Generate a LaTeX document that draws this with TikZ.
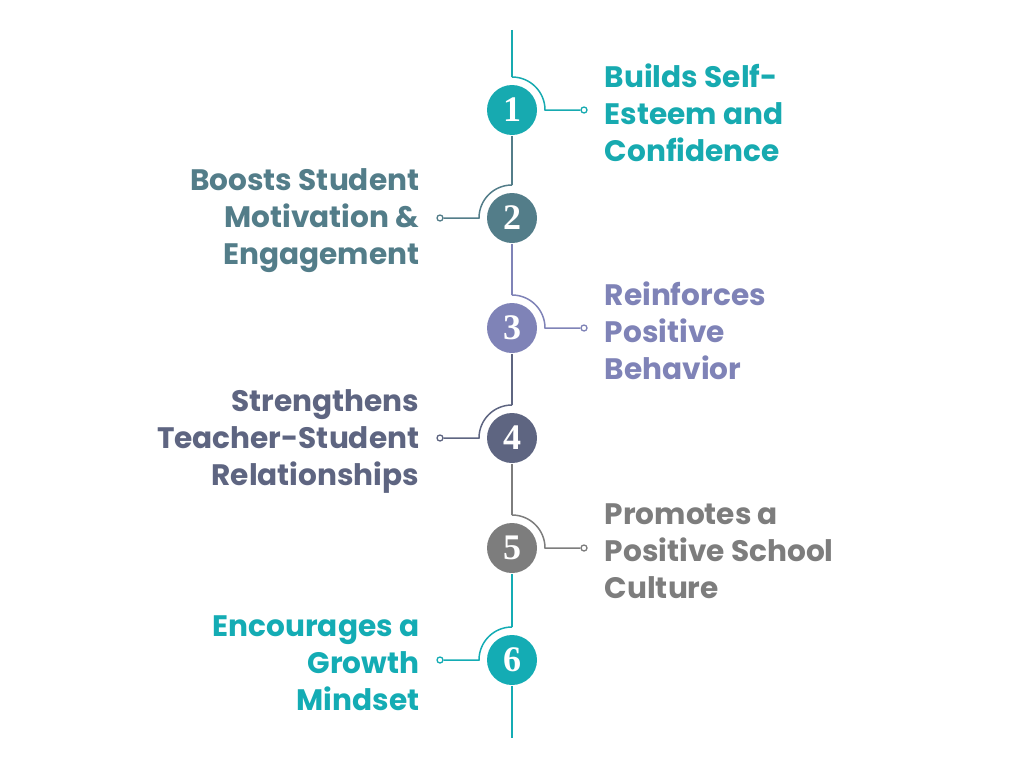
\documentclass[tikz,border=0pt]{standalone}
\usepackage{fontspec}
\setmainfont{Poppins}
\newfontfamily\numfont{Liberation Serif}
\usetikzlibrary{positioning}
\definecolor{cA}{HTML}{17AAB0}
\definecolor{cB}{HTML}{537D89}
\definecolor{cC}{HTML}{7F83B7}
\definecolor{cD}{HTML}{5E6581}
\definecolor{cE}{HTML}{7D7D7D}
\definecolor{cF}{HTML}{14ACB4}
\tikzset{
  step/.style = {circle, fill=#1, minimum size=50pt, inner sep=0pt, text=white, font=\numfont\bfseries\fontsize{36}{36}\selectfont},
  label/.style = {text=#1, font=\bfseries\fontsize{29.6}{37}\selectfont, inner sep=0pt},
  pin/.style = {circle, draw=#1, fill=white, line width=1.3pt, minimum size=6pt, inner sep=0pt}
}
\begin{document}
\begin{tikzpicture}[x=1pt, y=-1pt, line width=1.5pt]
\useasboundingbox (0,0) rectangle (1024,768);
\coordinate (top) at (512,30);
\coordinate (bot) at (512,738);
% steps: number / y / colour / side (1 right, -1 left) / text
\foreach \n/\y/\c/\s/\t in {
  1/110/cA/1/{Builds Self-\\Esteem and\\Confidence},
  2/218/cB/-1/{Boosts Student\\Motivation \&\\Engagement},
  3/328/cC/1/{Reinforces\\Positive\\Behavior},
  4/438/cD/-1/{Strengthens\\Teacher-Student\\Relationships},
  5/548/cE/1/{Promotes a\\Positive School\\Culture},
  6/660/cF/-1/{Encourages a\\Growth\\Mindset}} {
  \node[step=\c] (s\n) at (512,\y) {\n};
  \coordinate (a\n) at (512,\y-33);
  \coordinate (b\n) at (512+\s*33,\y);
  \node[pin=\c] (p\n) at (512+\s*72,\y) {};
  \draw[\c] (a\n) arc[start angle=90, delta angle=-90*\s, radius=33pt] -- (p\n);
  \ifnum\s=1
    \node[label=\c, align=left, anchor=west] (t\n) at (604,\y+3) {\t};
  \else
    \node[label=\c, align=right, anchor=east] (t\n) at (420,\y+3) {\t};
  \fi
}
\draw[cA] (top) -- (a1);
\draw[cB] (s1) -- (a2);
\draw[cC] (s2) -- (a3);
\draw[cD] (s3) -- (a4);
\draw[cE] (s4) -- (a5);
\draw[cF] (s5) -- (a6);
\draw[cF] (s6) -- (bot);
\end{tikzpicture}
\end{document}
